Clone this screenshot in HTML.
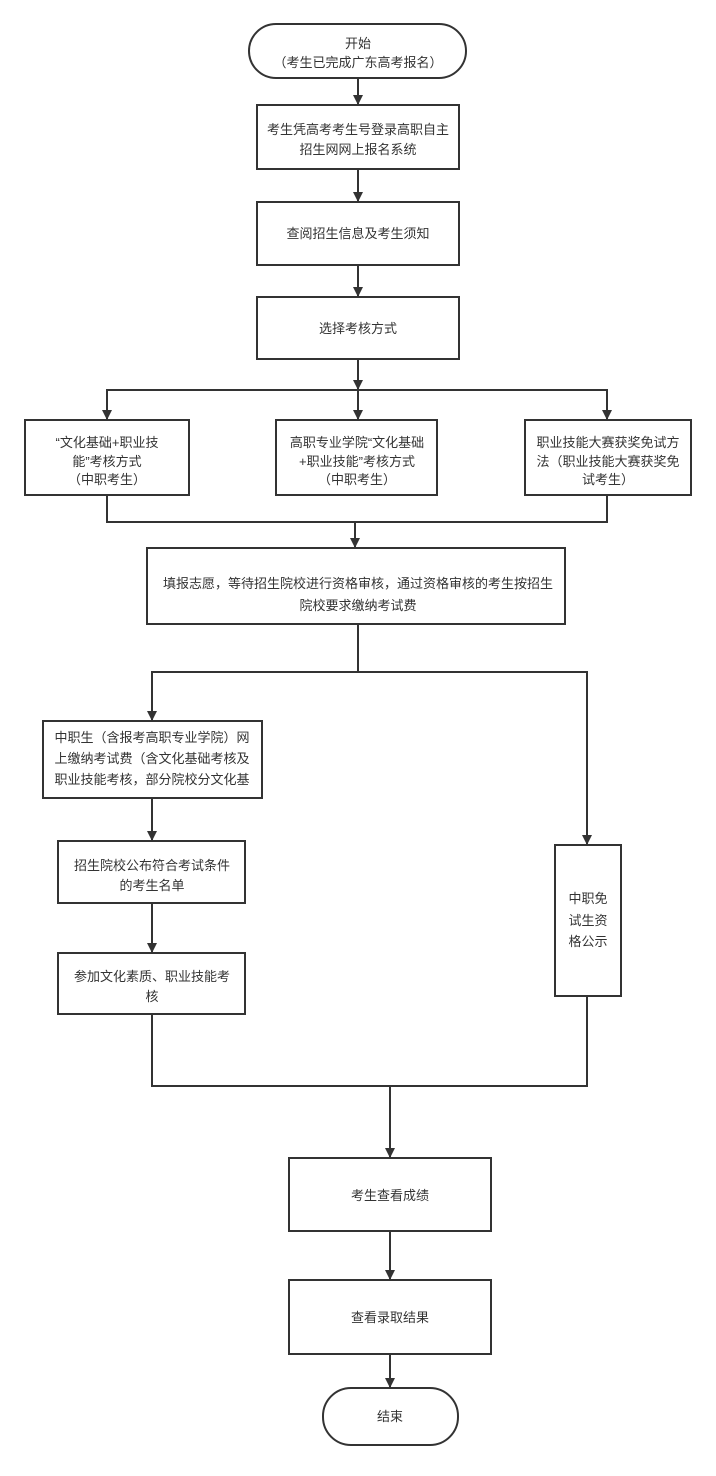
<!DOCTYPE html>
<html><head><meta charset="utf-8"><style>
body{margin:0;background:#fff;}
svg text{font-family:"Liberation Sans","Noto Sans CJK SC",sans-serif;font-size:13px;fill:#333;text-anchor:middle;}
</style></head><body>
<svg width="716" height="1471" viewBox="0 0 716 1471" xmlns="http://www.w3.org/2000/svg">
<defs><marker id="a" markerWidth="10" markerHeight="14" refX="5" refY="13" orient="auto" markerUnits="userSpaceOnUse"><path d="M0,0 L5,0 L10,0 L5,14 Z" fill="#333" transform="rotate(0)"/></marker>
<marker id="d" viewBox="0 0 10 10" refX="10" refY="5" markerWidth="10" markerHeight="10" markerUnits="userSpaceOnUse" orient="auto"><path d="M0,0 L10,5 L0,10 Z" fill="#333"/></marker></defs>
<g fill="none" stroke="#333" stroke-width="2">
<rect x="249" y="24" width="217" height="54" rx="27"/>
<rect x="257" y="105" width="202" height="64"/>
<rect x="257" y="202" width="202" height="63"/>
<rect x="257" y="297" width="202" height="62"/>
<rect x="25" y="420" width="164" height="75"/>
<rect x="276" y="420" width="161" height="75"/>
<rect x="525" y="420" width="166" height="75"/>
<rect x="147" y="548" width="418" height="76"/>
<rect x="43" y="721" width="219" height="77"/>
<rect x="58" y="841" width="187" height="62"/>
<rect x="58" y="953" width="187" height="61"/>
<rect x="555" y="845" width="66" height="151"/>
<rect x="289" y="1158" width="202" height="73"/>
<rect x="289" y="1280" width="202" height="74"/>
<rect x="323" y="1388" width="135" height="57" rx="28"/>
<g marker-end="url(#d)">
<path d="M358 78 V105"/><path d="M358 169 V202"/><path d="M358 265 V297"/>
<path d="M358 359 V390"/>
<path d="M358 390 H107 V420"/><path d="M358 390 V420"/><path d="M358 390 H607 V420"/>
<path d="M107 495 V522 H607 V495 M355 522 V548"/>
<path d="M358 624 V672 H152 V721"/><path d="M358 672 H587 V845"/>
<path d="M152 798 V841"/><path d="M152 903 V953"/>
<path d="M152 1014 V1086 H587 V996 M390 1086 V1158"/>
<path d="M390 1231 V1280"/><path d="M390 1354 V1388"/>
</g></g>
<text x="358" y="48">开始</text><text x="358" y="67">（考生已完成广东高考报名）</text>
<text x="358" y="134">考生凭高考考生号登录高职自主</text><text x="358" y="154">招生网网上报名系统</text>
<text x="358" y="238">查阅招生信息及考生须知</text>
<text x="358" y="333">选择考核方式</text>
<text x="107" y="447">“文化基础+职业技</text><text x="107" y="466">能”考核方式</text><text x="107" y="484">（中职考生）</text>
<text x="357" y="447">高职专业学院“文化基础</text><text x="357" y="466">+职业技能”考核方式</text><text x="357" y="484">（中职考生）</text>
<text x="608" y="447">职业技能大赛获奖免试方</text><text x="608" y="466">法（职业技能大赛获奖免</text><text x="608" y="484">试考生）</text>
<text x="358" y="588">填报志愿，等待招生院校进行资格审核，通过资格审核的考生按招生</text><text x="358" y="610">院校要求缴纳考试费</text>
<text x="152" y="742">中职生（含报考高职专业学院）网</text><text x="152" y="763">上缴纳考试费（含文化基础考核及</text><text x="152" y="784">职业技能考核，部分院校分文化基</text><text x="152" y="805" style="display:none"></text>
<text x="152" y="805"></text>
<text x="152" y="870">招生院校公布符合考试条件</text><text x="152" y="890">的考生名单</text>
<text x="152" y="981">参加文化素质、职业技能考</text><text x="152" y="1001">核</text>
<text x="588" y="903">中职免</text><text x="588" y="925">试生资</text><text x="588" y="946">格公示</text>
<text x="390" y="1200">考生查看成绩</text>
<text x="390" y="1322">查看录取结果</text>
<text x="390" y="1421">结束</text>
</svg>
</body></html>
